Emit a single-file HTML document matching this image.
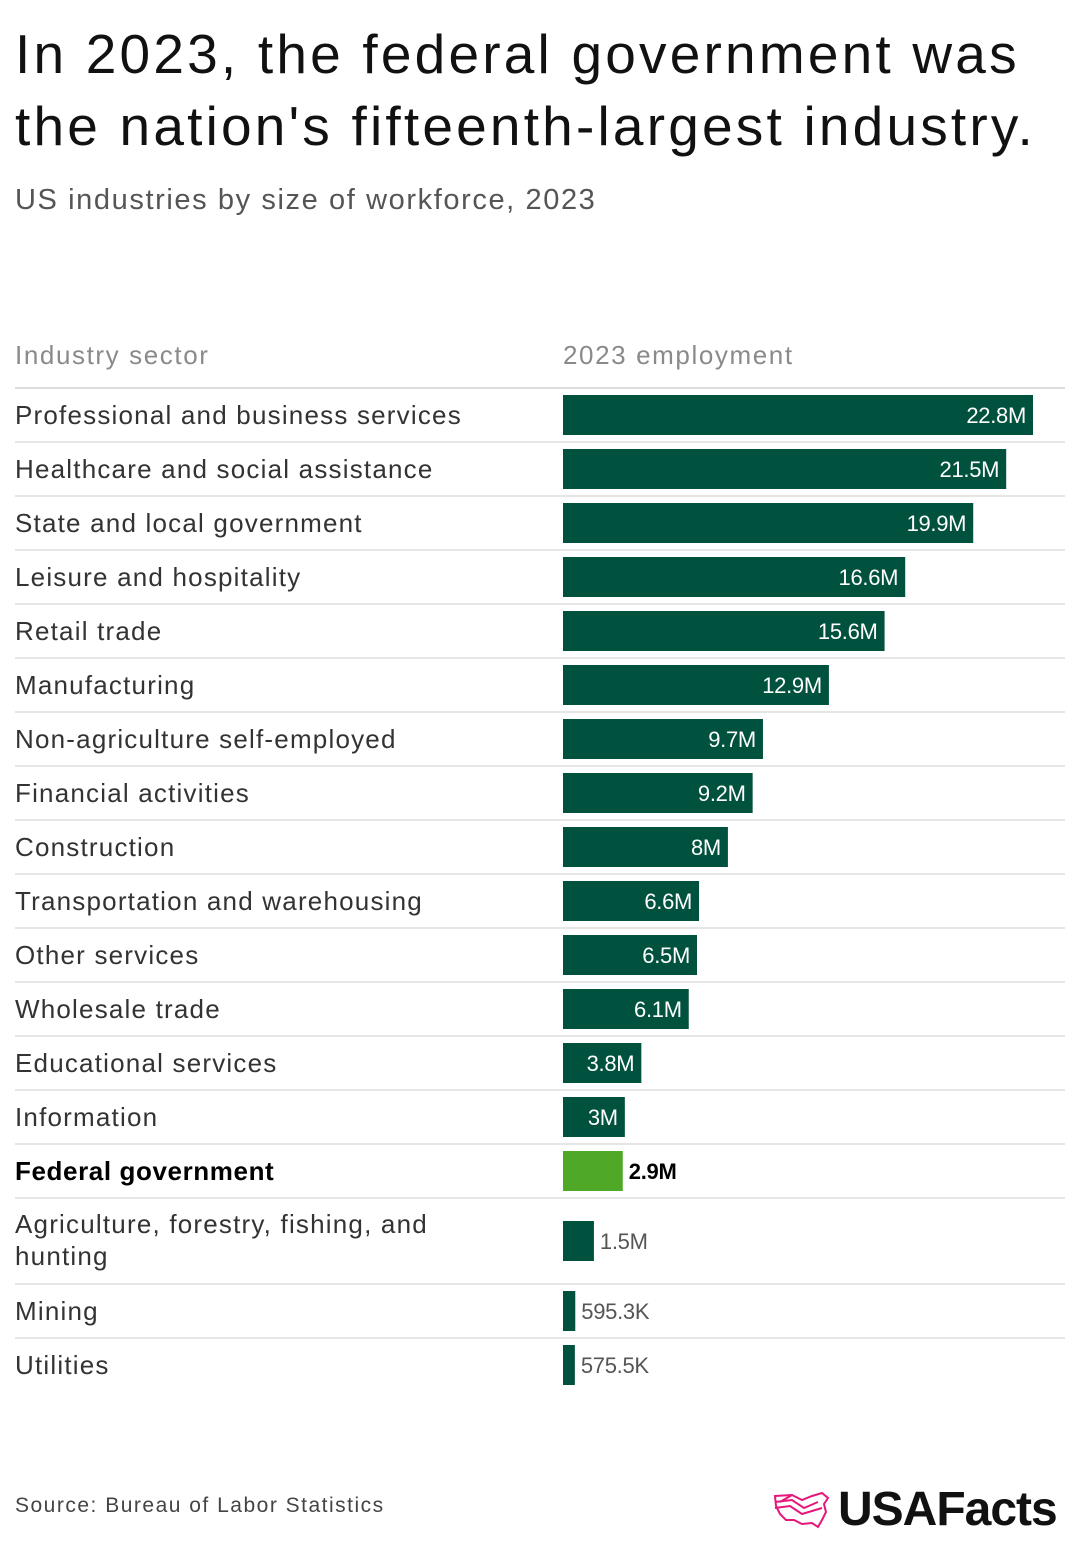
<!DOCTYPE html>
<html><head><meta charset="utf-8">
<style>
body{margin:0;width:1080px;height:1542px;background:#fff;font-family:"Liberation Sans",sans-serif;position:relative;overflow:hidden}
#title{position:absolute;left:15px;top:18px;font-size:55px;line-height:72px;color:#111;letter-spacing:3.2px;margin:0;font-weight:normal;white-space:nowrap}
#subtitle{position:absolute;left:15px;top:184px;font-size:29px;color:#555;letter-spacing:1.6px}
.hdr{position:absolute;top:340px;font-size:26px;color:#8a8a8a;letter-spacing:1.6px}
#chart{position:absolute;left:0;top:0}
#source{position:absolute;left:15px;top:1494px;font-size:21px;color:#444;letter-spacing:1.5px}
#logo{position:absolute;left:772px;top:1482px;display:flex;align-items:center}
#logo span{font-size:48px;font-weight:bold;color:#111;letter-spacing:-1px;margin-left:8px}
</style></head><body>
<h1 id="title">In 2023, the federal government was<br>the nation's fifteenth-largest industry.</h1>
<div id="subtitle">US industries by size of workforce, 2023</div>
<div class="hdr" style="left:15px">Industry sector</div>
<div class="hdr" style="left:563px">2023 employment</div>
<svg id="chart" width="1080" height="1420"></svg>
<div id="source">Source: Bureau of Labor Statistics</div>
<div id="logo">
<svg width="58" height="40" viewBox="0 0 58 40"><path d="M3 6 L20 5 L30 10 L40 6 L50 3 L56 8 L52 14 L54 22 L50 30 L46 37 L40 33 L30 34 L22 30 L14 30 L8 24 L4 16 Z M3 12 L20 10 L32 18 L46 12 M3 18 L18 16 L30 24 L50 18 M20 5 L8 12" fill="none" stroke="#e6177a" stroke-width="2"/></svg>
<span>USAFacts</span></div>
<script>
const categories=["Professional and business services","Healthcare and social assistance","State and local government","Leisure and hospitality","Retail trade","Manufacturing","Non-agriculture self-employed","Financial activities","Construction","Transportation and warehousing","Other services","Wholesale trade","Educational services","Information","Federal government","Agriculture, forestry, fishing, and hunting","Mining","Utilities"];
const values=[22.8,21.5,19.9,16.6,15.6,12.9,9.7,9.2,8,6.6,6.5,6.1,3.8,3,2.9,1.5,0.5953,0.5755];
const valueLabels=["22.8M","21.5M","19.9M","16.6M","15.6M","12.9M","9.7M","9.2M","8M","6.6M","6.5M","6.1M","3.8M","3M","2.9M","1.5M","595.3K","575.5K"];
const highlight="Federal government";
const svg=document.getElementById('chart');
const NS='http://www.w3.org/2000/svg';
const x0=563, xScale=v=>v*470/22.8;
function mk(t,a){const e=document.createElementNS(NS,t);for(const k in a)e.setAttribute(k,a[k]);svg.appendChild(e);return e;}
let line=mk('line',{x1:15,x2:1065,y1:388,y2:388,stroke:'#ddd','stroke-width':2});


let y=388;
categories.forEach((c,i)=>{
  const two=c.length>40;
  const h=two?86:54;
  const cy=y+h/2;
  const hl=c===highlight;
  const w=xScale(values[i]);
  if(two){
    const t=mk('text',{x:15,y:cy-8,'font-size':26,fill:'#333','letter-spacing':'1.2'});
    t.innerHTML='<tspan x="15">Agriculture, forestry, fishing, and</tspan><tspan x="15" dy="32">hunting</tspan>';
    
    
  }else{
    const t=mk('text',{x:15,y:cy+9,'font-size':26,fill:hl?'#000':'#333','font-weight':hl?'bold':'normal','letter-spacing':hl?'0.6':'1.2'});
    t.textContent=c;
    
    
  }
  const r=mk('rect',{x:x0,y:cy-20,width:w,height:40,fill:hl?'#4fa826':'#00513d'});
  
  
  const inside=w>55&&!hl;
  const lab=mk('text',{x:inside?x0+w-7:x0+w+6,y:cy+8,'font-size':22,'text-anchor':inside?'end':'start',fill:inside?'#fff':(hl?'#000':'#555'),'font-weight':hl?'bold':'normal','letter-spacing':'-0.3'});
  lab.textContent=valueLabels[i];
  
  
  y+=h;
  if(i<categories.length-1){
    const l=mk('line',{x1:15,x2:1065,y1:y,y2:y,stroke:'#e6e6e6','stroke-width':2});
    
    
  }
});
</script>
</body></html>
